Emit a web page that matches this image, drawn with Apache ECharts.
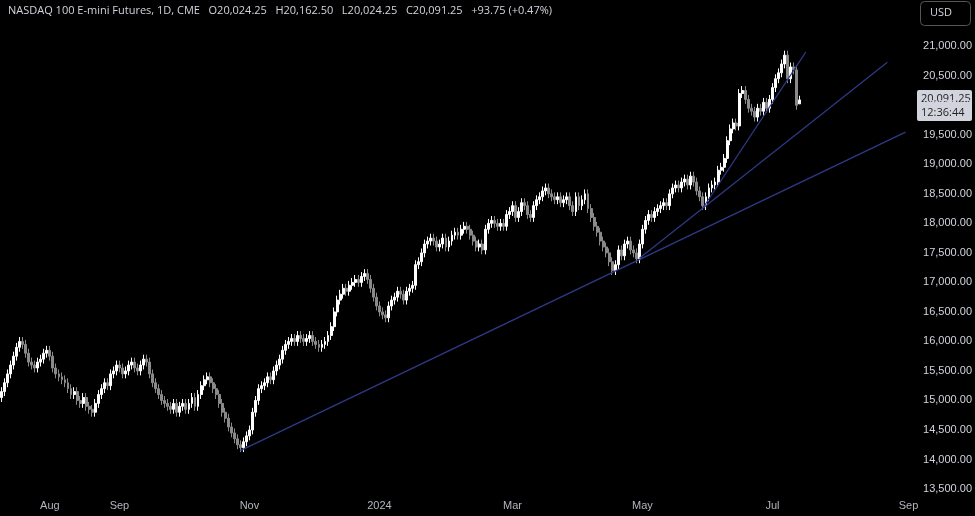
<!DOCTYPE html>
<html><head><meta charset="utf-8">
<script src="https://cdn.jsdelivr.net/npm/echarts@6/dist/echarts.min.js"></script>
<style>html,body{margin:0;background:#000;}#c{width:975px;height:516px;}</style>
</head><body><div id="c"></div>
<script>
// daily closes
const closes = [
  15150,15300,15450,15600,15750,15900,16000,15950,15800,15650,
  15600,15550,15650,15700,15800,15850,15750,15550,15450,15400,
  15350,15300,15200,15100,15150,15000,14950,15050,14900,14850,
  14800,14950,15100,15200,15300,15250,15450,15500,15600,15550,
  15450,15500,15600,15650,15550,15500,15600,15700,15650,15450,
  15300,15200,15100,15000,14950,14900,14850,14950,14800,14900,
  14950,14850,14950,15050,14900,15100,15250,15350,15400,15300,
  15200,15100,14950,14800,14700,14550,14450,14350,14250,14200,
  14300,14400,14500,14800,15000,15200,15250,15300,15400,15350,
  15500,15600,15700,15850,15950,16000,16050,16000,16100,16050,
  16000,16050,16100,16000,15950,15900,15950,16000,16100,16250,
  16500,16700,16800,16900,16850,16950,17000,17050,17000,17100,
  17150,17050,16900,16750,16600,16500,16450,16400,16600,16700,
  16750,16850,16800,16700,16850,16900,16950,17300,17350,17500,
  17650,17700,17750,17700,17600,17650,17750,17600,17700,17800,
  17850,17800,17900,17950,17900,17800,17700,17600,17650,17550,
  17900,18000,18050,18000,17950,18000,17950,18150,18200,18300,
  18100,18200,18350,18300,18150,18100,18300,18400,18450,18550,
  18600,18500,18450,18400,18450,18350,18400,18450,18300,18200,
  18450,18300,18400,18500,18250,18100,17950,17850,17700,17600,
  17500,17350,17200,17300,17550,17450,17650,17700,17550,17500,
  17400,17650,17900,18050,18150,18100,18200,18250,18300,18350,
  18300,18500,18600,18650,18600,18700,18750,18650,18800,18700,
  18550,18450,18300,18450,18600,18650,18700,18900,18950,19100,
  19400,19600,19700,19650,20200,20250,20100,19950,19900,19800,
  19950,19900,20050,19950,20100,20300,20450,20550,20700,20850,
  20450,20650,20600,20000,20091.25
];
const firstOpen = 15050;
const wick = 75;
const lastBar = [20024.25, 20091.25, 20024.25, 20162.5];
const totalBars = 302;
const yTicks = [13500, 21000];
// trend lines: [barIndex, price]
const trend1 = [[79, 14150], [299, 19545]];
const trend2 = [[211, 17410], [293, 20730]];
const trend3 = [[232, 18260], [266, 20900]];

const dates = [];
let d = new Date(2023, 6, 10);
while (dates.length < totalBars) {
  if (d.getDay() !== 0 && d.getDay() !== 6) dates.push(new Date(d));
  d.setDate(d.getDate() + 1);
}
const showMonths = ['2023-7', '2023-8', '2023-10', '2024-0', '2024-2', '2024-4', '2024-6', '2024-8'];
const names = ['Jan','Feb','Mar','Apr','May','Jun','Jul','Aug','Sep','Oct','Nov','Dec'];
const labelIdx = {};
dates.forEach((dt, i) => {
  const k = dt.getFullYear() + '-' + dt.getMonth();
  if (showMonths.includes(k) && !(k in labelIdx)) labelIdx[k] = i;
});
const cats = dates.map((dt, i) => i);

const ohlc = closes.map((c, i) => {
  if (i === closes.length - 1) return lastBar;
  const o = i === 0 ? firstOpen : closes[i - 1];
  return [o, c, Math.min(o, c) - wick, Math.max(o, c) + wick];
});

const line = (pts) => [{ coord: pts[0] }, { coord: pts[1] }];

const chart = echarts.init(document.getElementById('c'));
chart.setOption({
  backgroundColor: '#000',
  animation: false,
  grid: { left: 0, right: 60, top: 2, bottom: 27 },
  xAxis: {
    type: 'category', data: cats, boundaryGap: true,
    axisLine: { show: false }, axisTick: { show: false }, splitLine: { show: false },
    axisLabel: {
      color: '#b2b5be', fontSize: 11, margin: 11,
      interval: (i) => Object.values(labelIdx).includes(i),
      formatter: (v) => {
        const dt = dates[v];
        return dt.getMonth() === 0 ? String(dt.getFullYear()) : names[dt.getMonth()];
      }
    }
  },
  yAxis: {
    type: 'value', position: 'right', min: 13500, max: 21750, interval: 500, scale: true,
    axisLine: { show: false }, axisTick: { show: false }, splitLine: { show: false },
    axisLabel: {
      color: '#d1d4dc', fontSize: 11, margin: 10,
      formatter: (v) => (v > yTicks[1] || v < yTicks[0]) ? '' : v.toLocaleString('en-US', { minimumFractionDigits: 2 })
    }
  },
  series: [{
    type: 'candlestick', data: ohlc, barWidth: 2.4,
    itemStyle: { color: '#ffffff', color0: '#8a8a8a', borderColor: '#ffffff', borderColor0: '#8a8a8a', borderWidth: 1 },
    markLine: {
      symbol: 'none', silent: true, label: { show: false },
      lineStyle: { color: '#2f3a8a', width: 1.2, type: 'solid' },
      data: [line(trend1), line(trend2), line(trend3)]
    }
  }],
  graphic: [
    { type: 'text', left: 8, top: 5, style: { text: 'NASDAQ 100 E-mini Futures, 1D, CME   O20,024.25   H20,162.50   L20,024.25   C20,091.25   +93.75 (+0.47%)', fill: '#d1d4dc', font: '11px "Open Sans", sans-serif' } },
    { type: 'rect', left: 920, top: 1, shape: { width: 50, height: 24, r: 4 }, style: { fill: '#000', stroke: '#555', lineWidth: 1 } },
    { type: 'text', left: 930, top: 7, style: { text: 'USD', fill: '#d1d4dc', font: '11px "Open Sans", sans-serif' } },
    { type: 'rect', left: 917, top: 90, shape: { width: 55, height: 31, r: 2 }, style: { fill: '#d1d4dc' } },
    { type: 'text', left: 921, top: 92, style: { text: '20,091.25\n12:36:44', fill: '#222', font: '11px "Open Sans", sans-serif', lineHeight: 14 } }
  ]
});
</script></body></html>
